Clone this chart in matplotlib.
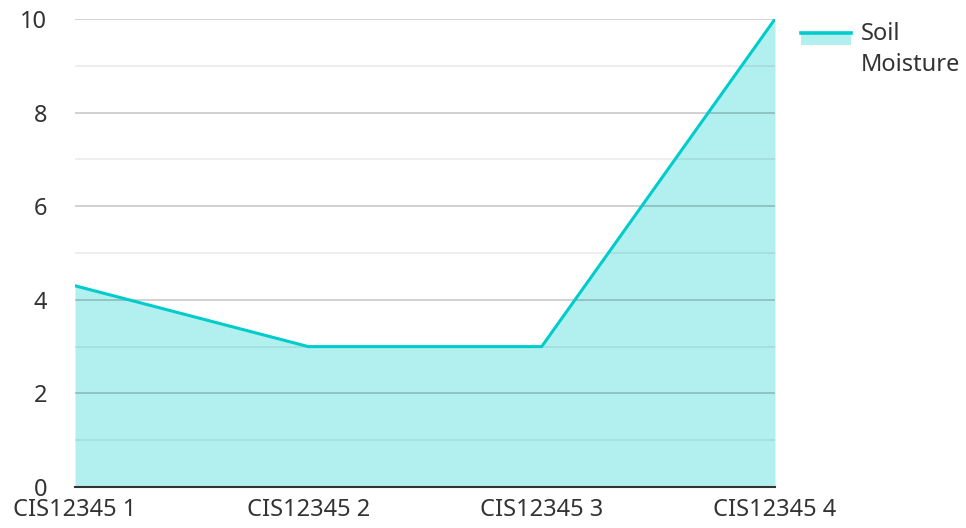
import numpy as np
import matplotlib.pyplot as plt
from matplotlib.patches import Rectangle
from matplotlib.lines import Line2D

plt.rcParams['font.family'] = ['Noto Sans', 'DejaVu Sans']

categories = ["CIS12345 1", "CIS12345 2", "CIS12345 3", "CIS12345 4"]
soil_moisture = [4.3, 3.0, 3.0, 10.0]
series_name = "Soil\nMoisture"

line_c = "#00CCCC"
fill_c = "#B2EFEF"
text_c = "#333333"
fs = 17


class AreaHandler:
    # line on top of a filled strip, level with the first text line
    def legend_artist(self, legend, orig_handle, fontsize, handlebox):
        x0, y0 = handlebox.xdescent, handlebox.ydescent
        w, h = handlebox.width, handlebox.height
        ly = y0 + h - 1.52 * fontsize
        tr = handlebox.get_transform()
        rect = Rectangle((x0, ly - 0.5 * fontsize), w, 0.5 * fontsize,
                         facecolor=fill_c, edgecolor="none", transform=tr)
        line = Line2D([x0, x0 + w], [ly, ly], color=line_c, lw=2.6,
                      transform=tr)
        handlebox.add_artist(rect)
        handlebox.add_artist(line)
        return line


fig = plt.figure(figsize=(9.66, 5.28), dpi=100)
ax = fig.add_axes([75/966, 1-487/528, 700/966, 468/528])

x = np.arange(len(categories))
ax.fill_between(x, soil_moisture, 0, color=fill_c, lw=0, zorder=1)
area_line, = ax.plot(x, soil_moisture, color=line_c, lw=2.2, zorder=3)

ax.set_xlim(0, len(categories)-1)
ax.set_ylim(0, 10)
ax.set_yticks(np.arange(0, 11, 2))
ax.set_yticks(np.arange(1, 10, 2), minor=True)
ax.grid(axis="y", which="major", color="#000000", alpha=0.21, lw=1.2, zorder=2)
ax.grid(axis="y", which="minor", color="#000000", alpha=0.08, lw=1.2, zorder=2)
ax.set_axisbelow(False)
ax.set_xticks(x)
ax.set_xticklabels(categories)

for s in ["top", "right", "left"]:
    ax.spines[s].set_visible(False)
ax.spines["bottom"].set_color(text_c)
ax.spines["bottom"].set_linewidth(1.5)
ax.spines["bottom"].set_zorder(4)

ax.tick_params(axis="both", which="both", length=0, labelsize=fs, colors=text_c)
ax.tick_params(axis="y", pad=20)
ax.tick_params(axis="x", pad=8)

leg = ax.legend([area_line], [series_name], handler_map={area_line: AreaHandler()},
                loc="upper left", bbox_to_anchor=(1.0371, 0.994), frameon=False,
                fontsize=fs, handlelength=2.1, handletextpad=0.42,
                handleheight=2.6, labelcolor=text_c, borderaxespad=0,
                borderpad=0)
leg.get_texts()[0].set_linespacing(1.4)

fig.savefig("out.png", dpi=100)
